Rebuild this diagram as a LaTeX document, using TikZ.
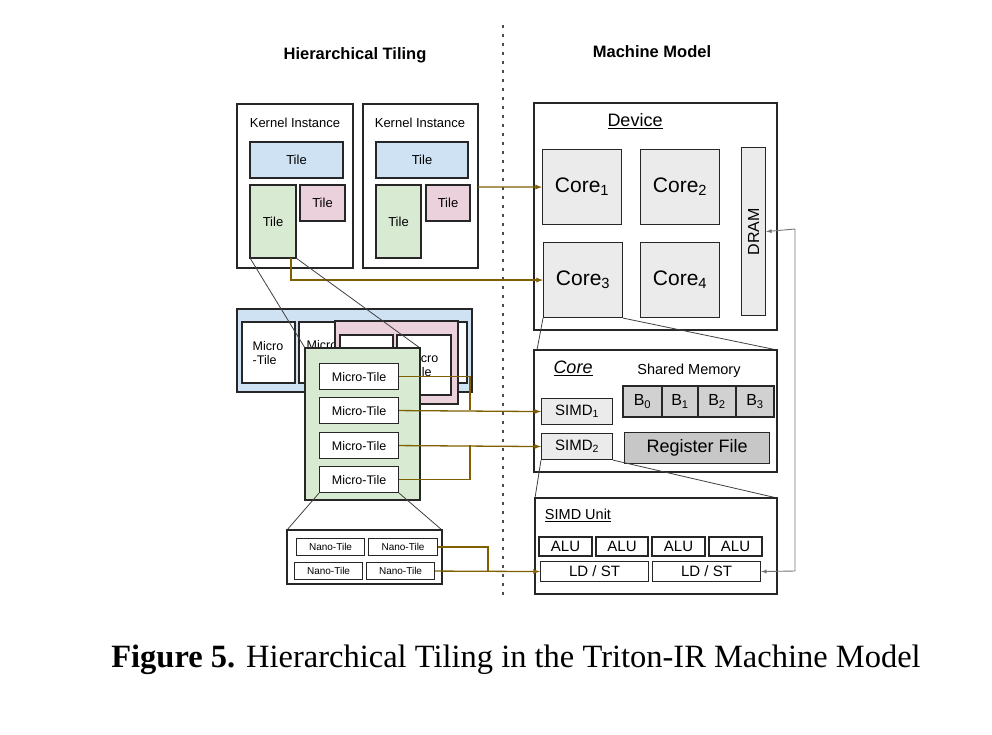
\documentclass[tikz,border=0pt]{standalone}
\usepackage{fontspec}
\setmainfont{Liberation Sans}
\newfontfamily\capfont{Liberation Serif}
\definecolor{tblue}{HTML}{CFE2F3}
\definecolor{tgreen}{HTML}{D9EAD3}
\definecolor{tpink}{HTML}{EAD1DC}
\definecolor{brn}{RGB}{127,96,0}
\begin{document}
\begin{tikzpicture}[x=1pt,y=-1pt,
  box/.style={draw=black!85,line width=1.1pt},
  bx/.style={box,anchor=north west,inner sep=0pt},
  lb/.style={inner sep=0pt},
  gr/.style={fill=black!8},
  tb/.style={fill=tblue},
  tg/.style={fill=tgreen},
  tp/.style={fill=tpink},
  br/.style={draw=brn,line width=1.3pt},
  ar/.style={br,-latex},
  zl/.style={draw=black!75,line width=0.8pt}]
\useasboundingbox (0,0) rectangle (992,734);
\fontsize{13}{15}\selectfont
\node[lb,font=\bfseries\fontsize{16.5}{18}\selectfont] (t1) at (355,55) {Hierarchical Tiling};
\node[lb,font=\bfseries\fontsize{16.5}{18}\selectfont] (t2) at (652,52) {Machine Model};
\coordinate (d1) at (503,25); \coordinate (d2) at (503,595);
\draw[black!70,line width=2.5pt,dash pattern=on 2.5pt off 6.5pt] (d1)--(d2);
% kernels
\draw[box] (237,104) rectangle (353,268);
\draw[box] (363,104) rectangle (478,268);
\node[lb] (k1) at (295,123) {Kernel Instance};
\node[lb] (k2) at (420,123) {Kernel Instance};
\draw[box,tb] (250,142) rectangle node{Tile} (343,178);
\draw[box,tg] (250,185) rectangle node{Tile} (296,258);
\draw[box,tp] (300,185) rectangle node{Tile} (345,221);
\draw[box,tb] (376,142) rectangle node{Tile} (468,178);
\draw[box,tg] (376,185) rectangle node{Tile} (421,258);
\draw[box,tp] (426,185) rectangle node{Tile} (470,221);
% device
\draw[box] (534,103) rectangle (777,330);
\node[lb,font=\fontsize{18}{20}\selectfont] (dev) at (635,121) {\underline{Device}};
\tikzset{core/.style={bx,gr,minimum width=79,minimum height=75,font=\fontsize{21}{23}\selectfont}}
\node[core] (c1) at (542,149) {Core\textsubscript{1}};
\node[core] (c2) at (640,149) {Core\textsubscript{2}};
\node[core] (c3) at (543,242) {Core\textsubscript{3}};
\node[core] (c4) at (640,242) {Core\textsubscript{4}};
\node[bx,gr,minimum width=24,minimum height=168] (dram) at (741,147) {};
\node[lb,rotate=90,font=\fontsize{16}{18}\selectfont] at (dram.center) {DRAM};
\draw[ar] (478,187) -- (c1.west);
\draw[ar] (291,258) |- (c3.west);
% core box
\draw[zl] (c3.south west) -- (537,350);
\draw[zl] (c3.south east) -- (777,350);
\draw[box] (534,350) rectangle (777,472);
\node[lb,font=\itshape\fontsize{18}{20}\selectfont] (corel) at (573,368) {\underline{Core}};
\node[lb,font=\fontsize{14.5}{16}\selectfont] (sm) at (689,371) {Shared Memory};
\foreach \a/\b/\i in {623/662/0,662/698/1,698/736/2,736/774/3}
  \draw[box,fill=black!18] (\a,386) rectangle node[font=\fontsize{16}{18}\selectfont]{B\textsubscript{\i}} (\b,417);
\node[bx,fill=black!22,minimum width=145,minimum height=31,font=\fontsize{18}{20}\selectfont] (rf) at (624,432) {Register File};
\node[bx,gr,minimum width=71,minimum height=26,font=\fontsize{15}{17}\selectfont] (s1) at (541,398) {SIMD\textsubscript{1}};
\node[bx,gr,minimum width=71,minimum height=26,font=\fontsize{15}{17}\selectfont] (s2) at (541,433) {SIMD\textsubscript{2}};
% simd unit
\draw[zl] (s2.south west) -- (535,498);
\draw[zl] (s2.south east) -- (777,498);
\draw[box] (535,498) rectangle (777,594);
\node[lb,font=\fontsize{14.5}{16}\selectfont] (su) at (578,515) {\underline{SIMD Unit}};
\foreach \a/\b in {539/592,596/648,652/705,709/762}
  \draw[box] (\a,537) rectangle node[font=\fontsize{15}{17}\selectfont]{ALU} (\b,556);
\node[bx,minimum width=108,minimum height=20,font=\fontsize{15}{17}\selectfont] (l1) at (540,561) {LD / ST};
\node[bx,minimum width=108,minimum height=20,font=\fontsize{15}{17}\selectfont] (l2) at (652,561) {LD / ST};
\coordinate (g1) at (795,229); \coordinate (g2) at (795,571);
\draw[black!55,line width=0.9pt,-latex] (g1) -- (dram.east);
\draw[black!55,line width=0.9pt,-latex] (g1) -- (g2) -- (l2.east);
% micro tiles
\draw[box,tb] (237,309) rectangle (472,392);
\draw[box,fill=white] (242,322) rectangle (295,383);
\node[lb,align=left,font=\fontsize{12.5}{13.5}\selectfont] at (268,353) {Micro\\-Tile};
\draw[box,fill=white] (299,322) rectangle (467,383);
\node[lb,font=\fontsize{12.5}{13.5}\selectfont] at (322,345) {Micro};
\draw[zl] (250,258) -- (305,348);
\draw[box,tp] (335,321) rectangle (458,404);
\draw[box,fill=white] (340,335) rectangle (393,395);
\draw[box,fill=white] (397,335) rectangle (451,395);
\node[lb,align=left,font=\fontsize{12.5}{13.5}\selectfont] at (423,365) {Micro\\-Tile};
\draw[zl] (296,258) -- (420,348);
\draw[box,tg] (305,348) rectangle (420,500);
\foreach \n/\y in {m1/363,m2/397,m3/432,m4/466}
  \node[bx,fill=white,minimum width=79,minimum height=26,font=\fontsize{12.5}{14}\selectfont] (\n) at (319,\y) {Micro-Tile};
\draw[br] (m1.east) -| (470,410);
\draw[ar] (m2.east) -- (s1.west);
\draw[ar] (m3.east) -- (s2.west);
\draw[br] (m4.east) -| (470,445);
% nano
\draw[zl] (m4.south west) -- (287,530);
\draw[zl] (m4.south east) -- (442,530);
\draw[box] (287,530) rectangle (442,584);
\tikzset{nano/.style={bx,minimum width=68,minimum height=17,font=\fontsize{10}{11}\selectfont}}
\node[nano] (n1) at (296,538) {Nano-Tile};
\node[nano,minimum width=69] (n2) at (368,538) {Nano-Tile};
\node[nano] (n3) at (294,562) {Nano-Tile};
\node[nano] (n4) at (366,562) {Nano-Tile};
\draw[br] (n2.east) -| (488,571);
\draw[ar] (n4.east) -- (l1.west);
% caption
\node[lb,font=\capfont\fontsize{32.5}{36}\selectfont] (cap) at (516,660) {\textbf{Figure 5.} Hierarchical Tiling in the Triton-IR Machine Model};
\end{tikzpicture}
\end{document}
